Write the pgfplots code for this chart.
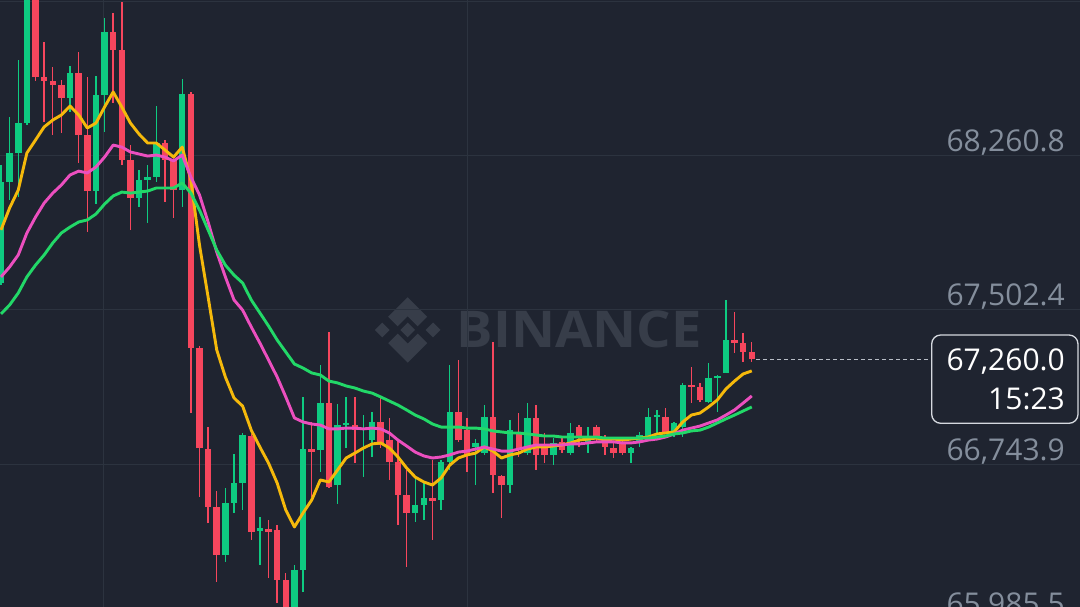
\documentclass[border=0pt]{standalone}
\usepackage{fontspec}
\setmainfont{Open Sans}
\usepackage{graphicx}
\usepackage{pgfplots}
\usepackage{pgfplotstable}
\pgfplotsset{compat=1.18}
\definecolor{chartbg}{HTML}{1F2430}
\definecolor{gridc}{HTML}{2C333F}
\definecolor{wm}{HTML}{373D49}
\definecolor{lab}{HTML}{848E9C}
\definecolor{cgreen}{HTML}{0ECB81}
\definecolor{cred}{HTML}{F6465D}
\definecolor{ma7c}{HTML}{F5B90B}
\definecolor{ma25c}{HTML}{EC4FBF}
\definecolor{ma99c}{HTML}{22D868}
\definecolor{plc}{HTML}{B7BDC6}
\definecolor{boxc}{HTML}{D5D9DF}

\begin{document}
\pgfplotstableread{
i O H L C
0 67635 68215 67625 68131
1 68131 68451 68043 68274
2 68274 68731 68058 68421
3 68421 69124 68412 69051
4 69051 69124 68628 68647
5 68647 68820 68426 68628
6 68628 68697 68362 68608
7 68608 68633 68372 68544
8 68544 68702 68475 68667
9 68667 68770 68225 68362
10 68362 68647 67886 68087
11 68087 68652 68023 68559
12 68559 68937 68377 68869
13 68869 68962 68520 68780
14 68780 69016 68215 68240
15 68240 68313 67895 68053
16 68053 68190 68009 68141
17 68141 68215 67930 68156
18 68156 68505 68131 68323
19 68323 68338 68033 68240
20 68240 68249 67954 68092
21 68092 68638 68009 68564
22 68564 68574 66996 67316
23 67316 67325 66583 66824
24 66819 66927 66455 66534
25 66534 66613 66165 66298
26 66298 66627 66264 66554
27 66554 66795 66505 66652
28 66652 66898 66519 66888
29 66883 66893 66372 66411
30 66416 66485 66249 66431
31 66426 66470 66185 66411
32 66421 66446 66062 66175
33 66175 66210 65880 65979
34 65979 66249 65880 66224
35 66224 67075 66116 66819
36 66819 66952 66583 66804
37 66814 67232 66706 67045
38 67045 67394 66627 66632
39 66642 67040 66549 66937
40 66937 67075 66824 66947
41 66937 67075 66750 66913
42 66913 66986 66682 66922
43 66863 67001 66780 66952
44 66952 67070 66824 66839
45 66863 66972 66667 66755
46 66755 66863 66446 66593
47 66593 66716 66239 66505
48 66505 66677 66460 66544
49 66544 66652 66470 66578
50 66578 66765 66372 66564
51 66569 66765 66519 66755
52 66755 67232 66716 67001
53 67001 67257 66854 66863
54 66913 66972 66706 66790
55 66829 66868 66642 66849
56 66800 67035 66790 66976
57 66976 67345 66603 66691
58 66687 66691 66480 66642
59 66642 66962 66603 66913
60 66903 66996 66780 66824
61 66800 67045 66790 66972
62 66972 67035 66716 66790
63 66839 66898 66750 66790
64 66790 66873 66741 66849
65 66854 66873 66800 66814
66 66800 66947 66790 66898
67 66927 66937 66829 66878
68 66854 66927 66800 66878
69 66927 66937 66849 66878
70 66878 66888 66790 66829
71 66824 66854 66775 66800
72 66854 66863 66790 66800
73 66800 66829 66750 66824
74 66854 66903 66829 66888
75 66878 67021 66878 66976
76 66976 67011 66898 66986
77 66976 67021 66898 66903
78 66903 66952 66878 66947
79 66927 67144 66878 67134
80 67134 67222 67045 67124
81 67124 67144 67050 67060
82 67050 67242 67045 67168
83 67168 67183 67001 67178
84 67193 67552 67193 67355
85 67355 67493 67291 67340
86 67340 67389 67247 67296
87 67296 67345 67247 67260
}\candles
\pgfplotstableread{
i ma7 ma25 ma99
0 67896 67665 67483
1 68004 67714 67527
2 68092 67773 67586
3 68274 67881 67665
4 68338 67959 67723
5 68402 68028 67773
6 68436 68077 67832
7 68461 68117 67881
8 68505 68166 67910
9 68461 68185 67935
10 68397 68176 67945
11 68421 68205 67974
12 68500 68254 68023
13 68574 68313 68063
14 68500 68303 68082
15 68421 68279 68077
16 68367 68269 68082
17 68323 68259 68087
18 68323 68264 68102
19 68289 68254 68102
20 68254 68235 68102
21 68303 68264 68127
22 68141 68156 68077
23 67822 68068 67994
24 67566 67935 67896
25 67306 67787 67797
26 67173 67665 67723
27 67070 67552 67674
28 67030 67502 67635
29 66912 67419 67552
30 66829 67340 67488
31 66750 67257 67424
32 66652 67173 67355
33 66519 67075 67296
34 66436 66972 67237
35 66505 66952 67217
36 66568 66942 67193
37 66667 66937 67183
38 66657 66918 67153
39 66716 66918 67144
40 66775 66922 67129
41 66799 66922 67119
42 66824 66918 67104
43 66844 66922 67094
44 66849 66918 67075
45 66824 66898 67055
46 66780 66863 67035
47 66726 66834 67011
48 66681 66804 66986
49 66657 66785 66967
50 66642 66775 66942
51 66677 66780 66927
52 66740 66790 66927
53 66775 66804 66927
54 66790 66809 66922
55 66799 66819 66922
56 66829 66829 66918
57 66809 66819 66908
58 66775 66809 66903
59 66790 66809 66898
60 66799 66819 66898
61 66819 66829 66893
62 66829 66839 66888
63 66829 66839 66883
64 66834 66839 66883
65 66839 66839 66878
66 66849 66844 66878
67 66863 66844 66878
68 66868 66849 66878
69 66873 66854 66878
70 66863 66854 66873
71 66868 66854 66873
72 66863 66849 66873
73 66868 66849 66873
74 66873 66854 66873
75 66878 66863 66873
76 66893 66868 66878
77 66898 66878 66883
78 66903 66893 66893
79 66952 66912 66898
80 66986 66922 66908
81 66996 66932 66912
82 67026 66947 66927
83 67060 66962 66947
84 67114 66986 66967
85 67153 67011 66986
86 67188 67045 67006
87 67203 67080 67026
}\mas
\begin{tikzpicture}
\path[use as bounding box, fill=chartbg] (0pt,0pt) rectangle (1080pt,607pt);
% watermark logo
\begin{scope}[x=1pt,y=1pt,shift={(407.7,277)}]
 \fill[wm] (0,32.7) -- (19.5,13.2) -- (10,3.7) -- (0,13.7) -- (-10,3.7) -- (-19.5,13.2) -- cycle;
 \fill[wm] (0,-32.7) -- (19.5,-13.2) -- (10,-3.7) -- (0,-13.7) -- (-10,-3.7) -- (-19.5,-13.2) -- cycle;
 \fill[wm] (0,7.3) -- (7.3,0) -- (0,-7.3) -- (-7.3,0) -- cycle;
 \fill[wm] (25.4,7.4) -- (32.8,0) -- (25.4,-7.4) -- (18,0) -- cycle;
 \fill[wm] (-25.4,7.4) -- (-18,0) -- (-25.4,-7.4) -- (-32.8,0) -- cycle;
\end{scope}
\node[anchor=south west, inner sep=0pt, text=wm] at (456.7pt,258.7pt) {\resizebox{245pt}{36.7pt}{\bfseries BINANCE}};

\begin{axis}[
  at={(0pt,0pt)}, anchor=south west,
  scale only axis, width=1080pt, height=607pt,
  xmin=-0.1159, xmax=125.03,
  ymin=66042.6, ymax=69026.1,
  axis line style={draw=none},
  tick style={draw=none}, major tick length=0pt,
  xtick={11.93,54.0}, ytick={66743.9,67502.4,68260.8,69019.2},
  xticklabels={}, yticklabels={},
  xmajorgrids, ymajorgrids,
  grid style={line width=1pt, draw=gridc},
  candle/.style={only marks, mark=none, mark size=0pt, mark options={draw=none, fill=none}, forget plot,
    error bars/y dir=plus, error bars/y explicit, error bars/error mark=none},
]
% wicks
\addplot[candle,
  restrict expr to domain={\thisrow{C}-\thisrow{O}}{0:1000000},
  error bars/error bar style={line width=1.4pt, draw=cgreen}]
  table[x=i, y=L, y error plus expr={\thisrow{H}-\thisrow{L}}] {\candles};
\addplot[candle,
  restrict expr to domain={\thisrow{C}-\thisrow{O}}{-1000000:-0.5},
  error bars/error bar style={line width=1.4pt, draw=cred}]
  table[x=i, y=L, y error plus expr={\thisrow{H}-\thisrow{L}}] {\candles};
% bodies
\addplot[candle,
  restrict expr to domain={\thisrow{C}-\thisrow{O}}{0:1000000},
  error bars/error bar style={line width=6.5pt, draw=cgreen}]
  table[x=i, y expr={min(\thisrow{O},\thisrow{C})}, y error plus expr={max(abs(\thisrow{C}-\thisrow{O}),9)}] {\candles};
\addplot[candle,
  restrict expr to domain={\thisrow{C}-\thisrow{O}}{-1000000:-0.5},
  error bars/error bar style={line width=6.5pt, draw=cred}]
  table[x=i, y expr={min(\thisrow{O},\thisrow{C})}, y error plus expr={max(abs(\thisrow{C}-\thisrow{O}),9)}] {\candles};
% moving averages
\addplot[no marks, line width=2.9pt, color=ma7c, line join=round] table[x=i, y=ma7] {\mas};
\addplot[no marks, line width=2.9pt, color=ma25c, line join=round] table[x=i, y=ma25] {\mas};
\addplot[no marks, line width=2.9pt, color=ma99c, line join=round] table[x=i, y=ma99] {\mas};
% last price line
\addplot[no marks, line width=1pt, color=plc, dash pattern=on 4pt off 3pt] coordinates {(87.49,67260) (107.65,67260)};
\coordinate (t2) at (axis cs:123.29,68260.8);
\coordinate (t3) at (axis cs:123.29,67502.4);
\coordinate (t4) at (axis cs:123.29,66743.9);
\coordinate (t5) at (axis cs:123.29,65985.5);
\end{axis}
\begin{scope}[every node/.style={anchor=base east, inner sep=0pt, text=lab, font=\fontsize{30}{30}\selectfont}]
\node at ([yshift=4pt]t2) {68,260.8};
\node at ([yshift=4pt]t3) {67,502.4};
\node at ([yshift=4pt]t4) {66,743.9};
\node at ([yshift=4pt]t5) {65,985.5};
\end{scope}
\draw[draw=boxc, fill=chartbg, line width=1.3pt, rounded corners=9pt] (931.7pt,183.7pt) rectangle (1078pt,272pt);
\node[anchor=base east, inner sep=0pt, text=white, font=\fontsize{30}{30}\selectfont] at (1065pt,236.3pt) {67,260.0};
\node[anchor=base east, inner sep=0pt, text=white, font=\fontsize{30}{30}\selectfont] at (1065pt,197pt) {15:23};
\end{tikzpicture}
\end{document}
